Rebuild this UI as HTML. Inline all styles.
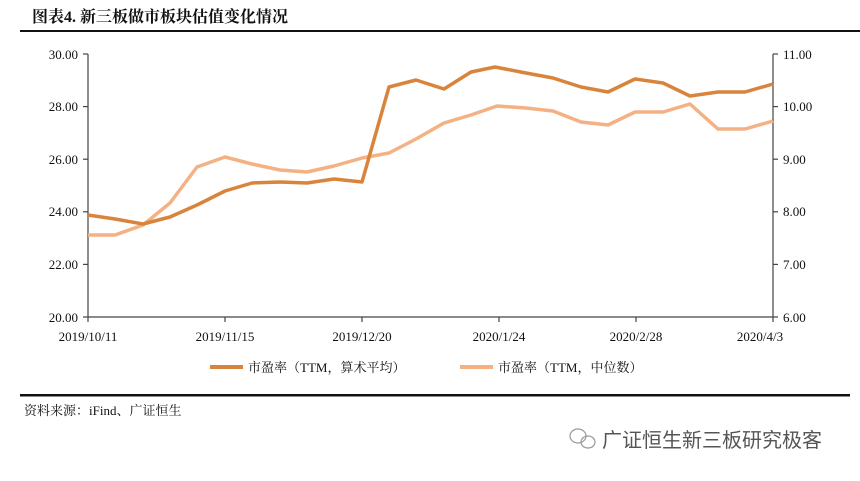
<!DOCTYPE html>
<html><head><meta charset="utf-8"><style>
body{margin:0;background:#fff;width:860px;height:476px;overflow:hidden;font-family:"Liberation Serif","Noto Serif CJK SC",serif;}
</style></head><body>
<svg width="860" height="476" xmlns="http://www.w3.org/2000/svg">
<text x="32" y="22" font-size="16" font-weight="bold" font-family="Liberation Serif,Noto Serif CJK SC,serif" fill="#111">图表4. 新三板做市板块估值变化情况</text>
<rect x="20" y="30" width="840" height="2" fill="#111"/>
<g stroke="#444" stroke-width="1.2" fill="none">
<line x1="88" y1="54" x2="88" y2="317"/>
<line x1="773" y1="54" x2="773" y2="317"/>
<line x1="88" y1="317" x2="773" y2="317"/>
<line x1="83" y1="54" x2="88" y2="54"/><line x1="83" y1="106.6" x2="88" y2="106.6"/><line x1="83" y1="159.2" x2="88" y2="159.2"/><line x1="83" y1="211.8" x2="88" y2="211.8"/><line x1="83" y1="264.4" x2="88" y2="264.4"/><line x1="83" y1="317" x2="88" y2="317"/>
<line x1="773" y1="54" x2="778" y2="54"/><line x1="773" y1="106.6" x2="778" y2="106.6"/><line x1="773" y1="159.2" x2="778" y2="159.2"/><line x1="773" y1="211.8" x2="778" y2="211.8"/><line x1="773" y1="264.4" x2="778" y2="264.4"/><line x1="773" y1="317" x2="778" y2="317"/>
<line x1="88" y1="317" x2="88" y2="322"/><line x1="225" y1="317" x2="225" y2="322"/><line x1="362" y1="317" x2="362" y2="322"/><line x1="499" y1="317" x2="499" y2="322"/><line x1="636" y1="317" x2="636" y2="322"/><line x1="773" y1="317" x2="773" y2="322"/>
</g>
<g font-size="13" fill="#111" text-anchor="end">
<text x="78" y="59">30.00</text><text x="78" y="111">28.00</text><text x="78" y="164">26.00</text><text x="78" y="216">24.00</text><text x="78" y="269">22.00</text><text x="78" y="322">20.00</text>
</g>
<g font-size="13" fill="#111" text-anchor="start">
<text x="783" y="59">11.00</text><text x="783" y="111">10.00</text><text x="783" y="164">9.00</text><text x="783" y="216">8.00</text><text x="783" y="269">7.00</text><text x="783" y="322">6.00</text>
</g>
<g font-size="13" fill="#111" text-anchor="middle">
<text x="88" y="341">2019/10/11</text><text x="225" y="341">2019/11/15</text><text x="362" y="341">2019/12/20</text><text x="499" y="341">2020/1/24</text><text x="636" y="341">2020/2/28</text><text x="760" y="341">2020/4/3</text>
</g>
<polyline fill="none" stroke="#F4B183" stroke-width="3.5" stroke-linejoin="round" points="88,235 115,235 143,225 170,203 197,167 225,157 252,164 280,170 307,172 334,166 362,158 389,153 416,139 444,123 471,115 497,106 526,108 553,111 581,122 608,125 635,112 663,112 690,104 718,129 745,129 773,121"/>
<polyline fill="none" stroke="#D9843C" stroke-width="3.5" stroke-linejoin="round" points="88,215 115,219 143,224 170,217 197,205 225,191 252,183 280,182 307,183 334,179 362,182 389,87 416,80 444,89 471,72 495,67 526,73 553,78 581,87 608,92 635,79 663,83 690,96 718,92 745,92 773,84"/>
<line x1="210" y1="367" x2="243" y2="367" stroke="#D9843C" stroke-width="4"/>
<text x="248" y="372" font-size="13" fill="#111">市盈率（TTM，算术平均）</text>
<line x1="460" y1="367" x2="493" y2="367" stroke="#F4B183" stroke-width="4"/>
<text x="498" y="372" font-size="13" fill="#111">市盈率（TTM，中位数）</text>
<rect x="20" y="394" width="830" height="2.5" fill="#111"/>
<text x="24" y="415" font-size="13" fill="#111">资料来源：iFind、广证恒生</text>
<g stroke="#999" fill="none" stroke-width="1.2"><ellipse cx="578" cy="436" rx="8" ry="7"/><ellipse cx="588" cy="442" rx="7" ry="6"/></g>
<text x="602" y="447" font-size="20" fill="#555" font-family="Noto Sans CJK SC,sans-serif">广证恒生新三板研究极客</text>
</svg>
</body></html>
